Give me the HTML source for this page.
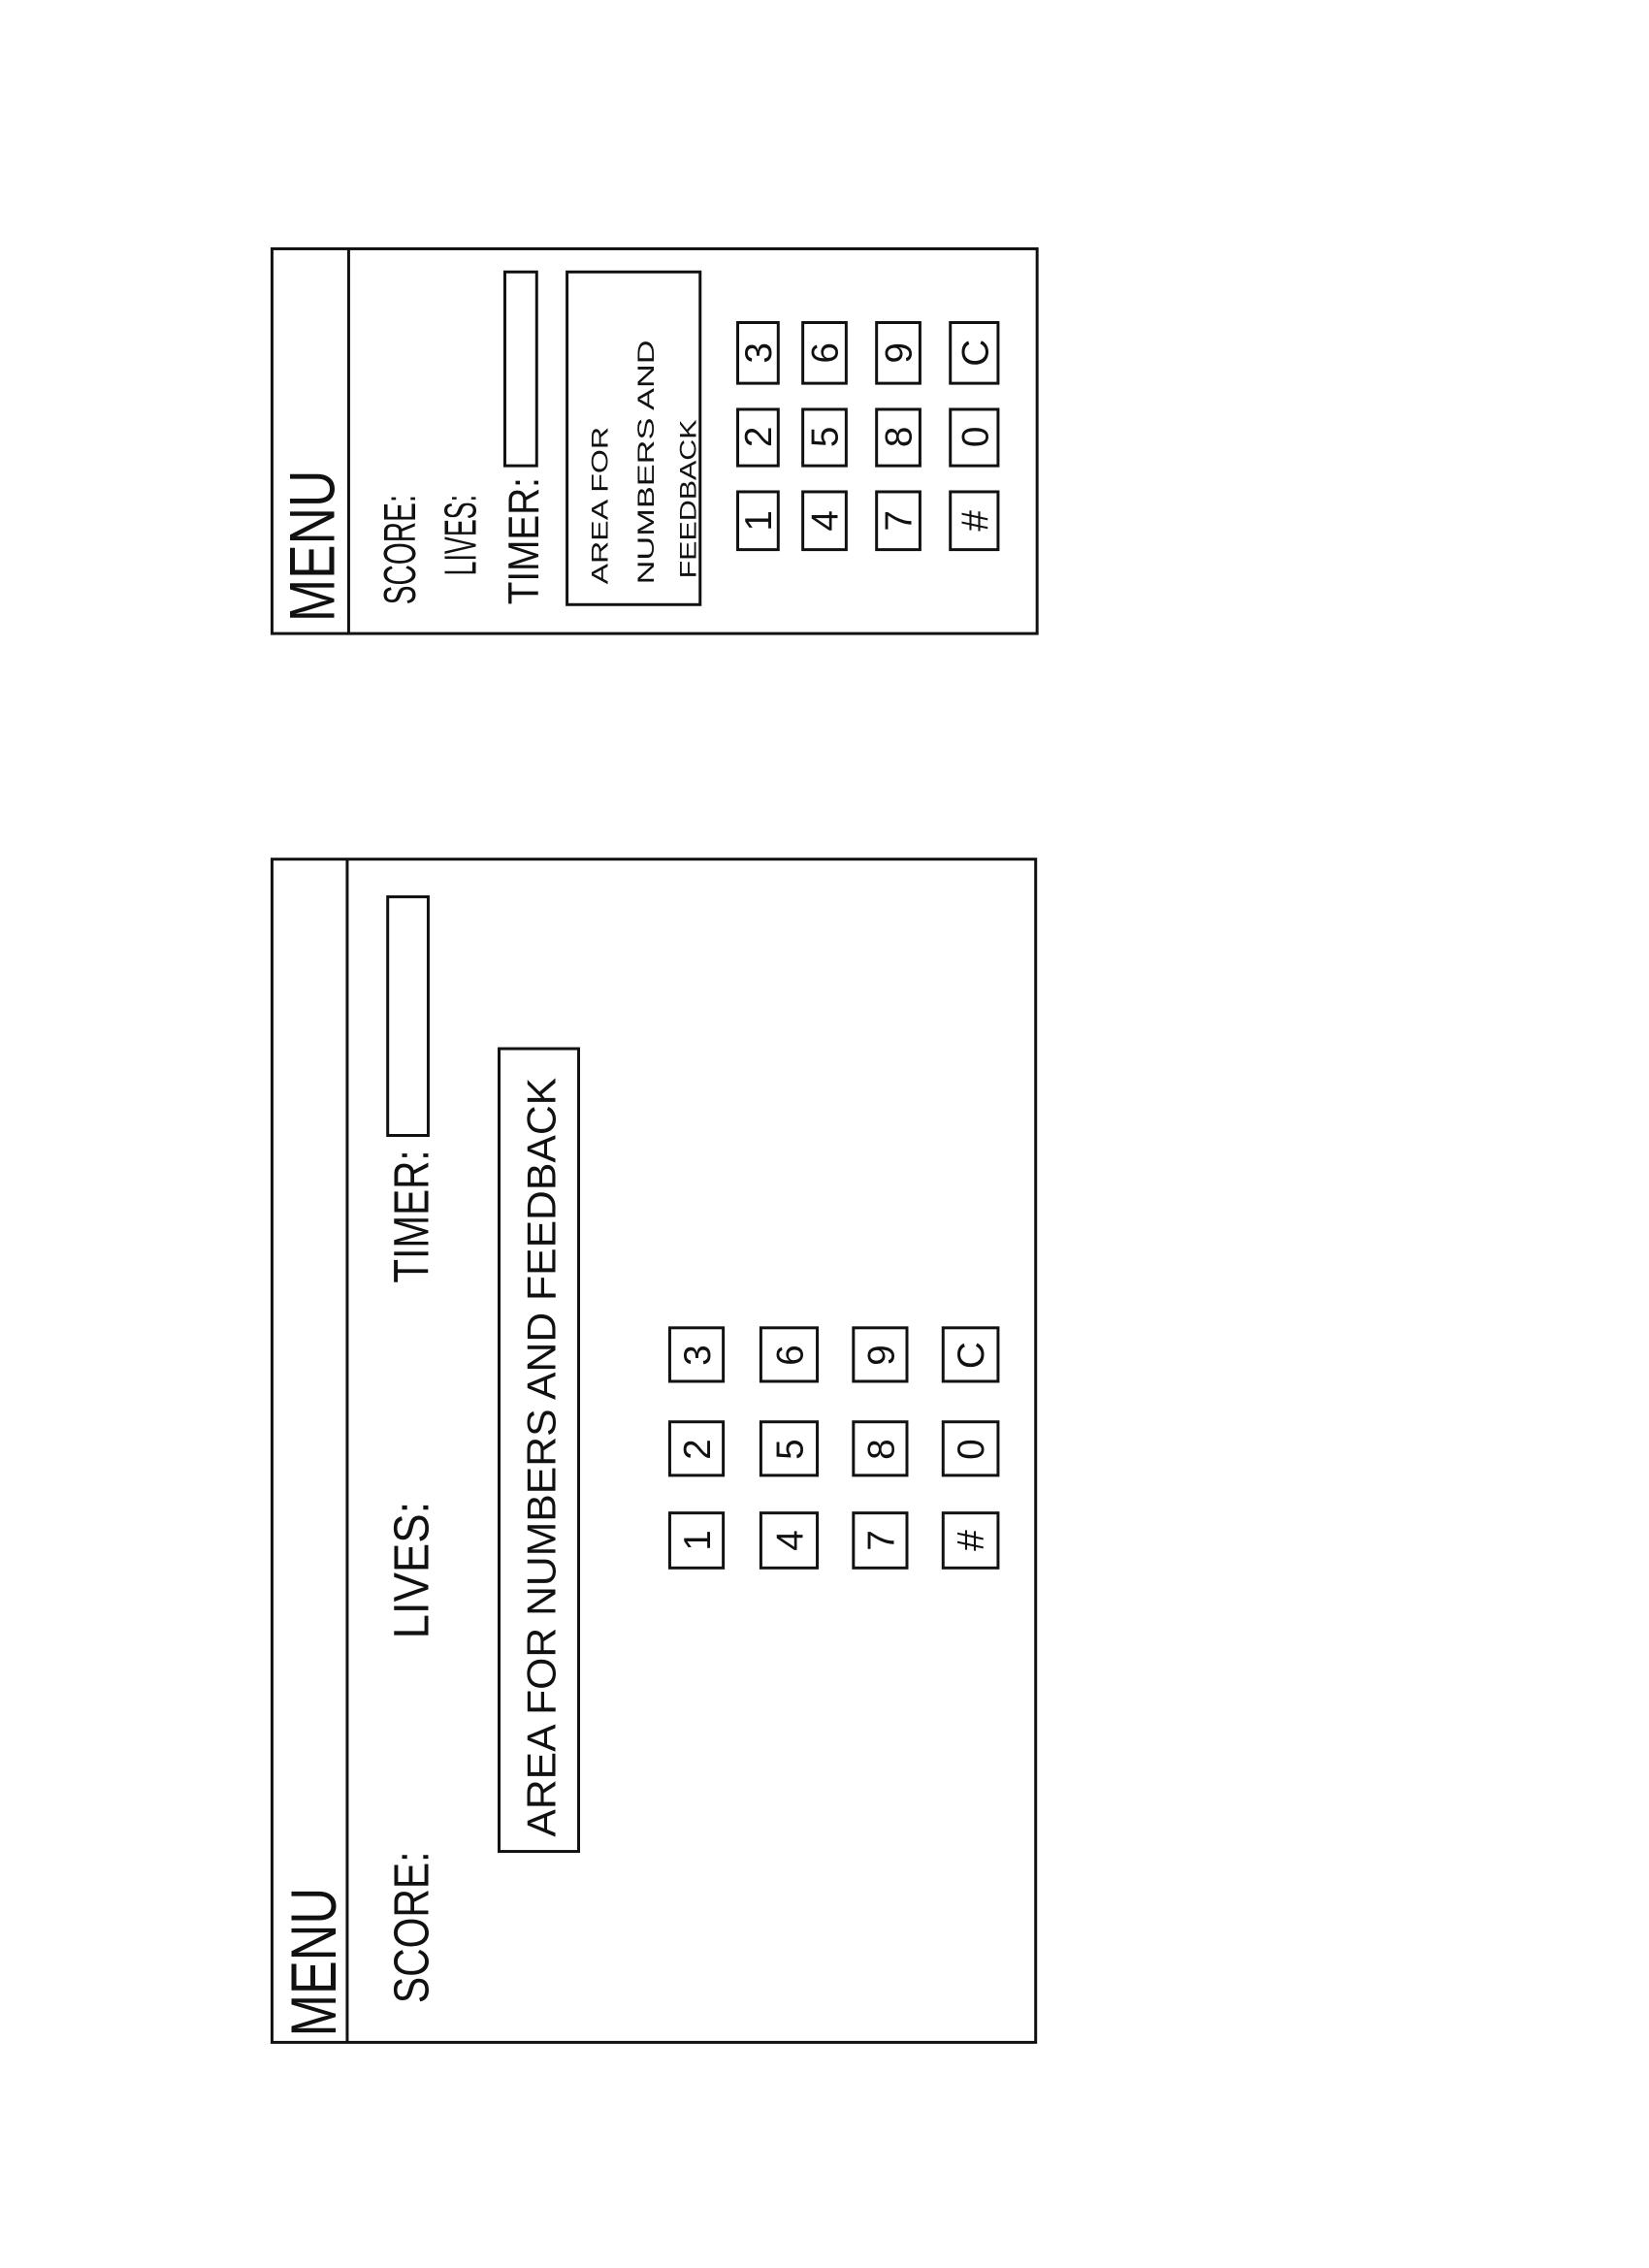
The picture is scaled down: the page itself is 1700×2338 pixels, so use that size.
<!DOCTYPE html>
<html><head><meta charset="utf-8"><style>
html,body{margin:0;padding:0;background:#fff;}
svg{display:block;}
text{font-family:"Liberation Sans Narrow","Liberation Sans",sans-serif;fill:#111;}
</style></head><body>
<svg width="1700" height="2338" viewBox="0 0 1140 1568" xmlns="http://www.w3.org/2000/svg">
<g fill="none" stroke="#111" stroke-width="2">
<rect x="188" y="172" width="529" height="266"/>
<line x1="241" y1="172" x2="241" y2="438"/>
<rect x="349" y="188" width="22" height="134"/>
<rect x="392" y="188" width="92" height="230"/>
<rect x="510" y="223" width="28" height="42"/><rect x="510" y="283" width="28" height="39"/><rect x="510" y="340" width="28" height="40"/>
<rect x="555" y="223" width="30" height="42"/><rect x="555" y="283" width="30" height="39"/><rect x="555" y="340" width="30" height="40"/>
<rect x="606" y="223" width="30" height="42"/><rect x="606" y="283" width="30" height="39"/><rect x="606" y="340" width="30" height="40"/>
<rect x="657" y="223" width="33" height="42"/><rect x="657" y="283" width="33" height="39"/><rect x="657" y="340" width="33" height="40"/>
<rect x="188" y="594" width="528" height="818"/>
<line x1="240" y1="594" x2="240" y2="1412"/>
<rect x="268" y="620" width="28" height="165"/>
<rect x="345" y="725" width="55" height="555"/>
<rect x="463" y="918" width="37" height="37"/><rect x="463" y="983" width="37" height="37"/><rect x="463" y="1046" width="37" height="38"/>
<rect x="526" y="918" width="39" height="37"/><rect x="526" y="983" width="39" height="37"/><rect x="526" y="1046" width="39" height="38"/>
<rect x="590" y="918" width="37" height="37"/><rect x="590" y="983" width="37" height="37"/><rect x="590" y="1046" width="37" height="38"/>
<rect x="652" y="918" width="38" height="37"/><rect x="652" y="983" width="38" height="37"/><rect x="652" y="1046" width="38" height="38"/>
</g>
<text transform="translate(231,430) rotate(-90)" font-size="44" textLength="105" lengthAdjust="spacingAndGlyphs">MENU</text>
<text transform="translate(287,418) rotate(-90)" font-size="31" textLength="76" lengthAdjust="spacingAndGlyphs">SCORE:</text>
<text transform="translate(329,398) rotate(-90)" font-size="31" textLength="56" lengthAdjust="spacingAndGlyphs">LIVES:</text>
<text transform="translate(372,418) rotate(-90)" font-size="30" textLength="88" lengthAdjust="spacingAndGlyphs">TIMER:</text>
<text transform="translate(420,404) rotate(-90)" font-size="16" textLength="109" lengthAdjust="spacingAndGlyphs">AREA  FOR</text>
<text transform="translate(452,404) rotate(-90)" font-size="16" textLength="169" lengthAdjust="spacingAndGlyphs">NUMBERS  AND</text>
<text transform="translate(481,400) rotate(-90)" font-size="16" textLength="110" lengthAdjust="spacingAndGlyphs">FEEDBACK</text>
<g font-size="26" text-anchor="middle">
<text transform="translate(533,244) rotate(-90)">3</text><text transform="translate(533,302) rotate(-90)">2</text><text transform="translate(533,360) rotate(-90)">1</text>
<text transform="translate(579,244) rotate(-90)">6</text><text transform="translate(579,302) rotate(-90)">5</text><text transform="translate(579,360) rotate(-90)">4</text>
<text transform="translate(630,244) rotate(-90)">9</text><text transform="translate(630,302) rotate(-90)">8</text><text transform="translate(630,360) rotate(-90)">7</text>
<text transform="translate(683,244) rotate(-90)">C</text><text transform="translate(683,302) rotate(-90)">0</text><text transform="translate(683,360) rotate(-90)">#</text>
</g>
<text transform="translate(232,1408) rotate(-90)" font-size="44" textLength="103" lengthAdjust="spacingAndGlyphs">MENU</text>
<text transform="translate(296,1385) rotate(-90)" font-size="34" textLength="105" lengthAdjust="spacingAndGlyphs">SCORE:</text>
<text transform="translate(296,1133) rotate(-90)" font-size="34" textLength="95" lengthAdjust="spacingAndGlyphs">LIVES:</text>
<text transform="translate(296,887) rotate(-90)" font-size="34" textLength="92" lengthAdjust="spacingAndGlyphs">TIMER:</text>
<text transform="translate(384,1270) rotate(-90)" font-size="28" textLength="525" lengthAdjust="spacingAndGlyphs">AREA FOR NUMBERS AND FEEDBACK</text>
<g font-size="26" text-anchor="middle">
<text transform="translate(491,937) rotate(-90)">3</text><text transform="translate(491,1002) rotate(-90)">2</text><text transform="translate(491,1065) rotate(-90)">1</text>
<text transform="translate(555,937) rotate(-90)">6</text><text transform="translate(555,1002) rotate(-90)">5</text><text transform="translate(555,1065) rotate(-90)">4</text>
<text transform="translate(618,937) rotate(-90)">9</text><text transform="translate(618,1002) rotate(-90)">8</text><text transform="translate(618,1065) rotate(-90)">7</text>
<text transform="translate(680,937) rotate(-90)">C</text><text transform="translate(680,1002) rotate(-90)">0</text><text transform="translate(680,1065) rotate(-90)">#</text>
</g>
</svg>
</body></html>
